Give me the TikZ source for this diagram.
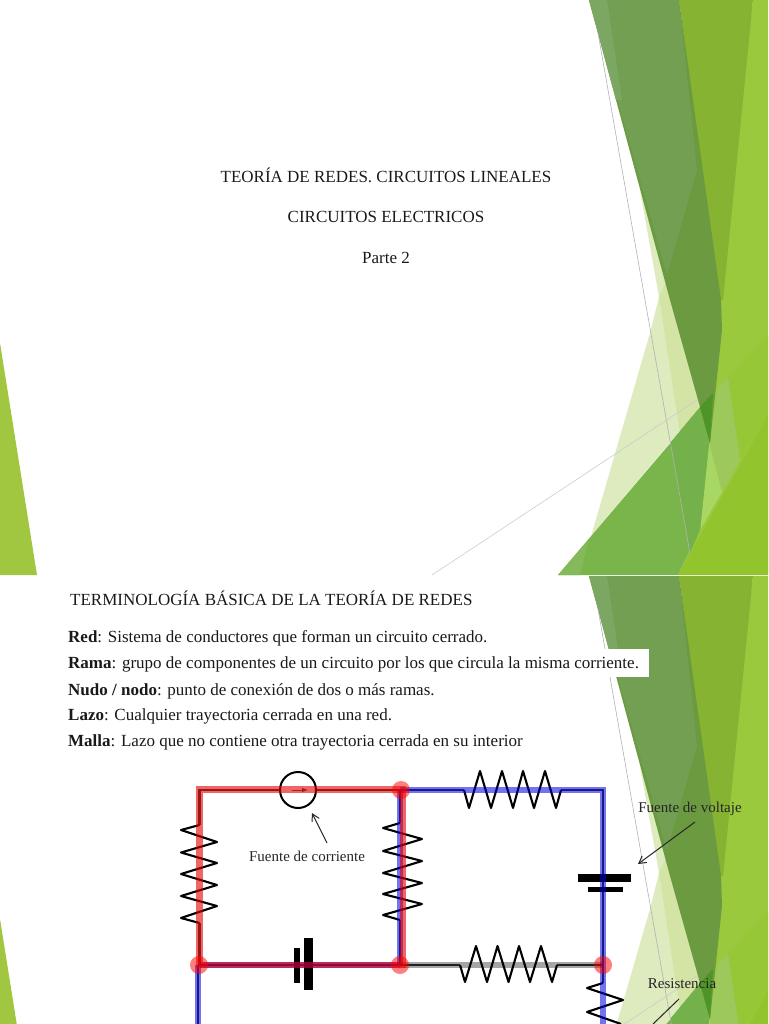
\documentclass[tikz,border=0pt]{standalone}
\usepackage{fontspec}
\setmainfont{Liberation Serif}
\usetikzlibrary{positioning, arrows.meta}

\definecolor{verdeA}{HTML}{9AC93E}
\definecolor{verdeB}{HTML}{91C42D}
\definecolor{verdeC}{HTML}{96C736}
\definecolor{verdeD}{HTML}{9DC85C}
\definecolor{verdeE}{HTML}{A9D764}
\definecolor{verdeF}{HTML}{87B333}
\definecolor{oscuroA}{HTML}{6B9A40}
\definecolor{oscuroB}{HTML}{739F52}
\definecolor{oscuroC}{HTML}{7CA763}
\definecolor{palidoA}{HTML}{DDEBBE}
\definecolor{palidoB}{HTML}{D3E4A4}
\definecolor{medioA}{HTML}{7AB54B}
\definecolor{medioB}{HTML}{74B14A}
\definecolor{medioC}{HTML}{84BA5C}
\definecolor{hondo}{HTML}{4F9426}
\definecolor{izq}{HTML}{A1C63F}

\tikzset{
    titulo/.style={font=\fontsize{17}{17}\selectfont,inner sep=0pt,text=black!90},
    cuerpo/.style={font=\fontsize{17}{17}\selectfont,inner sep=0pt,anchor=base west,text=black!90},
    rotulo/.style={font=\fontsize{15}{15}\selectfont,inner sep=0pt,text=black!85},
    cable/.style={line width=2.2pt,black!80},
    zigzag/.style={line width=2.1pt,black,line join=round},
    flecha/.style={line width=1pt,black!85,-{Straight Barb[length=7pt,width=8pt]}},
    lazoR/.style={line width=6.5pt,red!90!black,opacity=0.6},
    lazoB/.style={line width=6pt,blue!85!black,opacity=0.55},
    lazoG/.style={line width=6pt,black,opacity=0.35},
    punto/.style={fill=red,opacity=0.5,circle,inner sep=0pt,minimum size=18pt},
    placa/.style={fill=black,draw=none}
}

% Las facetas verdes se repiten igual en cada diapositiva
\newcommand{\facetas}{
    \fill[izq] (0,343) -- (37,575) -- (0,575) -- cycle;
    \fill[verdeA] (753,0) -- (768,0) -- (768,575) -- (678,575) -- (700,530) -- (705,443) -- (715,320) -- cycle;
    \fill[verdeC] (768,335) -- (728,377) -- (740,460) -- (768,415) -- cycle;
    \fill[verdeB] (678,575) -- (768,415) -- (768,575) -- cycle;
    \fill[verdeD] (728,377) -- (740,460) -- (722,492) -- (709,443) -- (718,387) -- cycle;
    \fill[verdeE] (709,443) -- (722,492) -- (700,530) -- cycle;
    \fill[verdeF] (679,0) -- (753,0) -- (723,300) -- (719,300) -- cycle;
    \fill[palidoA] (640,190) -- (668,277) -- (700,407) -- (558,575) -- (580,575) -- (592,533) -- (650,333) -- (659,297) -- cycle;
    \fill[palidoB] (659,297) -- (668,277) -- (700,407) -- (680,433) -- cycle;
    \fill[medioA] (558,575) -- (713,393) -- (709,443) -- (700,530) -- (678,575) -- cycle;
    \fill[medioB] (670,443) -- (700,407) -- (713,393) -- (709,443) -- (700,530) -- (690,553) -- cycle;
    \fill[medioC] (558,575) -- (588,541) -- (580,575) -- cycle;
    \fill[oscuroA] (589,0) -- (679,0) -- (721,300) -- (722,330) -- (710,443) -- (700,407) -- (670,300) -- cycle;
    \fill[oscuroB] (589,0) -- (679,0) -- (697,170) -- (667,275) -- cycle;
    \fill[oscuroC] (589,0) -- (607,0) -- (622,100) -- (616,100) -- cycle;
    \fill[hondo] (700,407) -- (713,393) -- (710,443) -- cycle;
    \draw[line width=0.6pt,black!30] (598,33) -- (645,300) -- (690,553);
    \draw[line width=0.6pt,black!20] (432,575) -- (697,400);
}

\begin{document}
\begin{tikzpicture}[x=1pt,y=-1pt]
    \useasboundingbox (0,0) rectangle (768,1024);

    \begin{scope}
        \clip (0,0) rectangle (768,575.5);
        \facetas
    \end{scope}
    \begin{scope}
        \clip (0,575.5) rectangle (768,1024);
        \begin{scope}[shift={(0,576)}]
            \facetas
        \end{scope}
    \end{scope}

    % Primera diapositiva
    \node[titulo] (tema) at (386,175) {TEORÍA DE REDES. CIRCUITOS LINEALES};
    \node[titulo] (circuitos) at (386,217) {CIRCUITOS ELECTRICOS};
    \node[titulo] (parte) at (386,258) {Parte 2};

    % Segunda diapositiva
    \fill[white] (60,649) rectangle (649,677);
    \node[titulo,anchor=base west] (termino) at (70,605) {TERMINOLOGÍA BÁSICA DE LA TEORÍA DE REDES};
    \node[cuerpo] (red) at (68,642) {\textbf{Red}: Sistema de conductores que forman un circuito cerrado.};
    \node[cuerpo] (rama) at (68,668) {\textbf{Rama}: grupo de componentes de un circuito por los que circula la misma corriente.};
    \node[cuerpo] (nudo) at (68,695) {\textbf{Nudo / nodo}: punto de conexión de dos o más ramas.};
    \node[cuerpo] (lazo) at (68,720) {\textbf{Lazo}: Cualquier trayectoria cerrada en una red.};
    \node[cuerpo] (malla) at (68,746) {\textbf{Malla}: Lazo que no contiene otra trayectoria cerrada en su interior};

    % Esquinas y ramas del circuito
    \coordinate (ai) at (199.5,790);
    \coordinate (ac) at (400,790);
    \coordinate (ad) at (603,790);
    \coordinate (mi) at (199.5,965);
    \coordinate (mc) at (400,965);
    \coordinate (md) at (603,965);
    \coordinate (bi) at (198,1024);
    \coordinate (bd) at (603,1024);
    \coordinate (mib) at (198,965);

    \node[draw,circle,line width=2pt,minimum size=36pt,inner sep=0pt,fill=none] (fuente) at (298,790) {};

    \coordinate (r1a) at (199.5,825);
    \coordinate (r1b) at (199.5,923);
    \coordinate (r2a) at (400,823);
    \coordinate (r2b) at (400,920);
    \coordinate (r3a) at (464,790);
    \coordinate (r3b) at (561,790);
    \coordinate (r4a) at (460,965);
    \coordinate (r4b) at (557,965);
    \coordinate (r5a) at (603,983);

    \draw[cable] (r1a) -- (ai) -- (fuente.west);
    \draw[cable] (fuente.east) -- (ac) -- (r2a);
    \draw[cable] (r1b) -- (mi) -- (mc) -- (r2b);
    \draw[cable] (ac) -- (r3a);
    \draw[cable] (r3b) -- (ad) -- (md) -- (r5a);
    \draw[cable] (mc) -- (r4a);
    \draw[cable] (r4b) -- (md);
    \draw[cable] (mib) -- (bi);

    % Resistencias
    \draw[zigzag] (r1a) -- (181,830) -- (217,842) -- (181,852.5) -- (217,863) -- (181,874) -- (217,885) -- (181,896) -- (217,906) -- (181,918) -- (r1b);
    \draw[zigzag] (r2a) -- (383,828) -- (422,839) -- (383,851) -- (422,861) -- (383,873) -- (422,883) -- (383,894) -- (422,904) -- (383,915) -- (r2b);
    \draw[zigzag] (r3a) -- (469,808) -- (480,771) -- (491,808) -- (502,771) -- (513,808) -- (523,771) -- (534,808) -- (545,771) -- (556,808) -- (r3b);
    \draw[zigzag] (r4a) -- (465,982) -- (476,946) -- (487,982) -- (497.5,946) -- (508.5,982) -- (519,946) -- (530,982) -- (541,946) -- (552,982) -- (r4b);
    \draw[zigzag] (r5a) -- (587,988) -- (623,1000) -- (587,1012) -- (621,1024);

    % Baterias
    \fill[placa] (304,938) rectangle (313,990);
    \fill[placa] (294,948) rectangle (300,983);
    \fill[placa] (578,874) rectangle (631,882);
    \fill[placa] (588,887) rectangle (623,892);

    \coordinate (ii) at (292,790);
    \coordinate (id) at (308,790);
    \draw[line width=1pt,black!70,-latex] (ii) -- (id);

    % Lazos de color
    \draw[lazoB] (ac) -- (ad) -- (bd);
    \draw[lazoB] (ac) -- (mc);
    \draw[lazoB] (mib) -- (bi);
    \draw[lazoB] (mi) -- (mc);
    \draw[lazoG] (mc) -- (md);
    \draw[lazoR,line join=miter] (199.5,789.5) -- (403,789.5) -- (403,965) -- (199.5,965) -- cycle;
    \node[punto] (n1) at (401,790) {};
    \node[punto] (n2) at (199,965) {};
    \node[punto] (n3) at (400,965) {};
    \node[punto] (n4) at (603,965) {};

    % Rotulos
    \node[rotulo] (lcorriente) at (307,856) {Fuente de corriente};
    \node[rotulo] (lvoltaje) at (690,809) {Fuente de voltaje};
    \node[rotulo] (lresis) at (682,984) {Resistencia};
    \coordinate (p1) at (312,813);
    \coordinate (p2) at (638,864);
    \coordinate (p3) at (653,1024);
    \coordinate (o1) at (327,843);
    \coordinate (o2) at (695,822);
    \coordinate (o3) at (679,999);
    \draw[flecha] (o1) -- (p1);
    \draw[flecha] (o2) -- (p2);
    \draw[line width=1pt,black!85] (o3) -- (p3);
\end{tikzpicture}
\end{document}
